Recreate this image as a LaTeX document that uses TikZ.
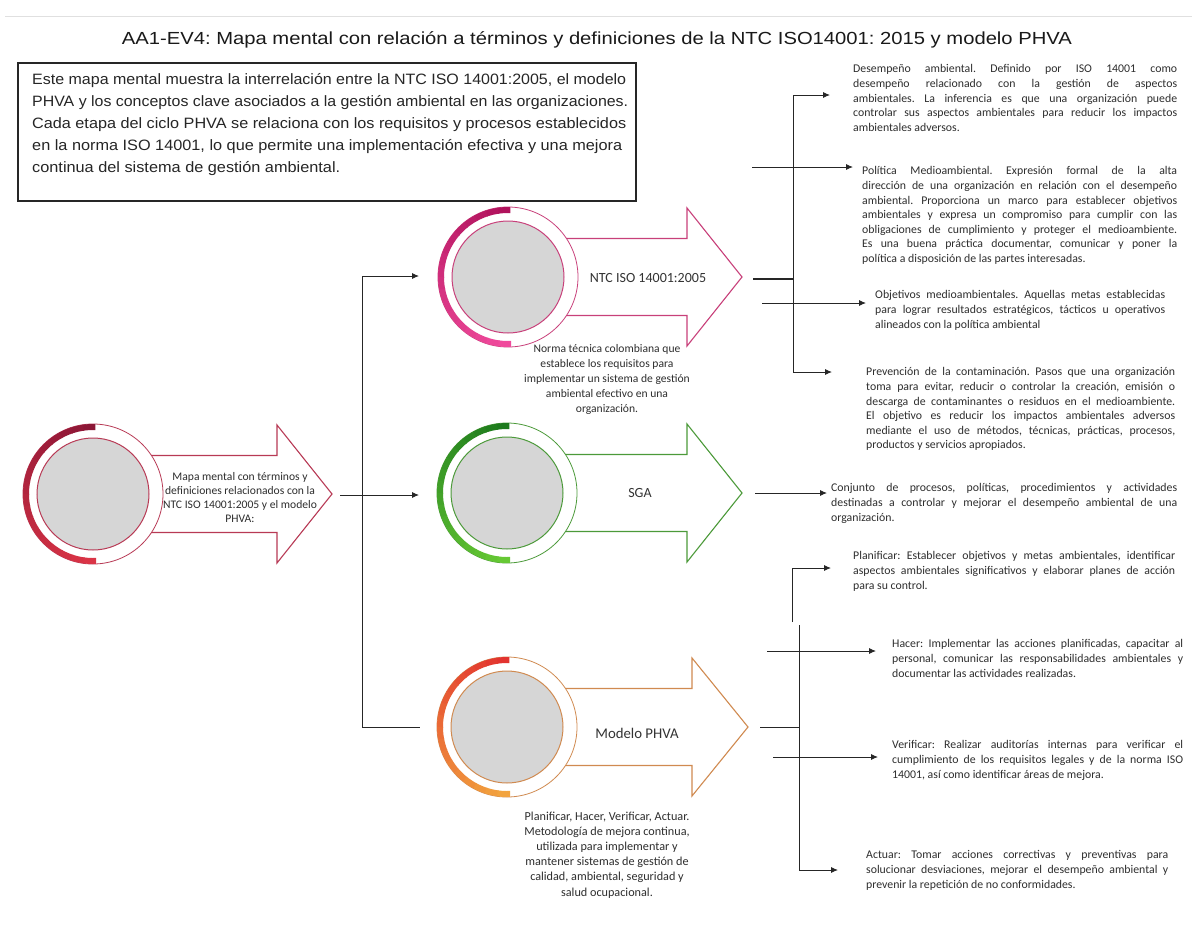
\documentclass[tikz,border=0pt]{standalone}
\usepackage{graphicx}
\usepackage{fontspec}
\setmainfont{Carlito}
\newfontfamily\dinfont{Liberation Sans}
\usetikzlibrary{arrows.meta,calc}
\frenchspacing
\definecolor{ringgray}{HTML}{D6D6D6}
\definecolor{txtgray}{HTML}{2E2E2E}
\definecolor{mDark}{HTML}{8C1636}
\definecolor{mLight}{HTML}{DA3446}
\definecolor{mLine}{HTML}{B83A55}
\definecolor{nDark}{HTML}{B0125C}
\definecolor{nLight}{HTML}{F04A9C}
\definecolor{nLine}{HTML}{C8407A}
\definecolor{gDark}{HTML}{1D7A1D}
\definecolor{gLight}{HTML}{66C834}
\definecolor{gLine}{HTML}{4C9A3A}
\definecolor{oDark}{HTML}{E2332F}
\definecolor{oLight}{HTML}{F2A33E}
\definecolor{oLine}{HTML}{D08A50}
\newcommand{\jl}[2]{\makebox[#1][s]{#2}}
\newcommand{\rl}[2]{\resizebox{#1}{\height}{#2}}
% #1 name, #2 cx, #3 cy, #4 shaft end, #5 tip, #6 dark, #7 light, #8 line
\newcommand{\ringarrow}[8]{%
  \draw[line width=1.1pt, draw=#8, fill=white, line join=miter]
    (#2,#3-38.5) -- (#4,#3-38.5) -- (#4,#3-69) -- (#5,#3) -- (#4,#3+69)
    -- (#4,#3+38.5) -- (#2,#3+38.5) -- cycle;
  \fill[white] (#2,#3) circle[radius=70pt];
  \draw[#8, line width=0.8pt] (#2,#3) circle[radius=70pt];
  \draw[#8, line width=1pt, fill=ringgray] (#2,#3) circle[radius=56pt];
  \foreach \i in {0,...,17}{%
    \pgfmathsetmacro\aa{88+10.22*\i}%
    \pgfmathtruncatemacro\pp{100-100*\i/17}%
    \draw[line width=6pt, #6!\pp!#7] (#2,#3) ++(\aa:67pt) arc[start angle=\aa, delta angle=10.9, radius=67pt];
  }
  \coordinate (#1) at (#2,#3);
  \coordinate (#1tip) at (#5,#3);
}
\begin{document}
\begin{tikzpicture}[x=1pt,y=-1pt,
  conn/.style={draw=black!85, line width=0.9pt},
  arr/.style={-{Latex[length=7pt,width=6pt]}},
  rtxt/.style={anchor=north west, inner sep=0pt, align=left, text=txtgray,
    font=\fontsize{11.8}{14.6}\selectfont},
  ctxt/.style={anchor=north, inner sep=0pt, align=center, text=txtgray},
  lbl/.style={inner sep=0pt, text=black!80}]
\useasboundingbox (0,0) rectangle (1200,927);
\fill[white] (0,0) rectangle (1200,927);
\coordinate (hlA) at (5,16); \coordinate (hlB) at (1192,16);
\draw[black!12, line width=1pt] (hlA) -- (hlB);

% title
\node[inner sep=0pt, text=black!90] (title) at (597,40)
  {\rl{950pt}{\dinfont\fontsize{17.5}{20}\selectfont AA1-EV4: Mapa mental con relación a términos y definiciones de la NTC ISO14001: 2015 y modelo PHVA}};

% intro box
\coordinate (boxA) at (18,63); \coordinate (boxB) at (636,201);
\draw[line width=1.3pt, black!85] (boxA) rectangle (boxB);
\node[anchor=north west, inner sep=0pt, align=left, text=black!85,
  font=\dinfont\fontsize{15}{22}\selectfont] (intro) at (32,68.6)
  {\strut\rl{594pt}{Este mapa mental muestra la interrelación entre la NTC ISO 14001:2005, el modelo}\\
   \rl{596pt}{PHVA y los conceptos clave asociados a la gestión ambiental en las organizaciones.}\\
   \rl{594pt}{Cada etapa del ciclo PHVA se relaciona con los requisitos y procesos establecidos}\\
   \rl{590pt}{en la norma ISO 14001, lo que permite una implementación efectiva y una mejora}\\
   \rl{308pt}{continua del sistema de gestión ambiental.}};

% ---------- connectors (left trunk) ----------
\coordinate (LT) at (362,276); \coordinate (LB) at (362,727);
\coordinate (ntcIn) at (419,276); \coordinate (sgaIn) at (419,495);
\coordinate (phvaIn) at (420,727); \coordinate (mainOut) at (340,495);
\draw[conn, arr] (LB) -- (LT) -- (ntcIn);
\draw[conn, arr] (mainOut) -- (sgaIn);
\draw[conn] (LB) -- (phvaIn);

% ---------- ring arrows ----------
\ringarrow{main}{93}{494}{277}{332}{mDark}{mLight}{mLine}
\ringarrow{ntc}{508}{277}{687}{742}{nDark}{nLight}{nLine}
\ringarrow{sga}{507}{493}{687}{742}{gDark}{gLight}{gLine}
\ringarrow{phva}{507}{727}{692}{748}{oDark}{oLight}{oLine}

% labels inside arrows
\node[ctxt, font=\fontsize{11.6}{14}\selectfont] (mainTxt) at (240,470.8)
  {\strut Mapa mental con términos y\\ definiciones relacionados con la\\ NTC ISO 14001:2005 y el modelo\\ PHVA:};
\node[lbl, font=\fontsize{14}{16}\selectfont] (ntcLbl) at (648,278) {NTC ISO 14001:2005};
\node[lbl, font=\fontsize{14}{16}\selectfont] (sgaLbl) at (640,493) {SGA};
\node[lbl, font=\fontsize{14.8}{17}\selectfont] (phvaLbl) at (637,733) {Modelo PHVA};

\node[ctxt, font=\fontsize{11.6}{15}\selectfont] (ntcTxt) at (607,341.4)
  {\strut Norma técnica colombiana que\\ establece los requisitos para\\ implementar un sistema de gestión\\ ambiental efectivo en una\\ organización.};
\node[ctxt, font=\fontsize{12.2}{15.2}\selectfont] (phvaTxt) at (607,809.3)
  {\strut Planificar, Hacer, Verificar, Actuar.\\ Metodología de mejora continua,\\ utilizada para implementar y\\ mantener sistemas de gestión de\\ calidad, ambiental, seguridad y\\ salud ocupacional.};

% ---------- NTC right branches ----------
\coordinate (RT) at (793,95); \coordinate (RB) at (793,372);
\coordinate (dsIn) at (830,95); \coordinate (pvIn) at (832,372);
\coordinate (stubA) at (753,279); \coordinate (stubB) at (793,279);
\coordinate (poA) at (752,167); \coordinate (poIn) at (853,167);
\coordinate (obA) at (762,303); \coordinate (obIn) at (866,303);
\draw[conn] (RT) -- (RB);
\draw[conn, arr] (RT) -- (dsIn);
\draw[conn, arr] (RB) -- (pvIn);
\draw[conn, line width=2.4pt] (stubA) -- (stubB);
\draw[conn, arr] (poA) -- (poIn);
\draw[conn, arr] (obA) -- (obIn);

% ---------- SGA right ----------
\coordinate (sgA) at (755,493); \coordinate (sgIn) at (827,493);
\draw[conn, arr] (sgA) -- (sgIn);

% ---------- PHVA right branches ----------
\coordinate (PLa) at (792,622); \coordinate (PLb) at (792,568); \coordinate (plIn) at (831,568);
\coordinate (PT) at (799,625); \coordinate (PB) at (799,870); \coordinate (acIn) at (838,870);
\coordinate (pstA) at (760,727); \coordinate (pstB) at (799,727);
\coordinate (haA) at (767,651); \coordinate (haIn) at (876,651);
\coordinate (veA) at (773,757); \coordinate (veIn) at (878,757);
\draw[conn, arr] (PLa) -- (PLb) -- (plIn);
\draw[conn, arr] (PT) -- (PB) -- (acIn);
\draw[conn] (pstA) -- (pstB);
\draw[conn, arr] (haA) -- (haIn);
\draw[conn, arr] (veA) -- (veIn);

% ---------- right texts ----------
\node[rtxt] (desemp) at (853,62.5)
  {\strut\jl{324pt}{Desempeño ambiental. Definido por ISO 14001 como}\\
   \jl{324pt}{desempeño relacionado con la gestión de aspectos}\\
   \jl{324pt}{ambientales. La inferencia es que una organización puede}\\
   \jl{324pt}{controlar sus aspectos ambientales para reducir los impactos}\\
   ambientales adversos.};
\node[rtxt] (politica) at (862,164.5)
  {\strut\jl{315pt}{Política Medioambiental. Expresión formal de la alta}\\
   \jl{315pt}{dirección de una organización en relación con el desempeño}\\
   \jl{315pt}{ambiental. Proporciona un marco para establecer objetivos}\\
   \jl{315pt}{ambientales y expresa un compromiso para cumplir con las}\\
   \jl{315pt}{obligaciones de cumplimiento y proteger el medioambiente.}\\
   \jl{315pt}{Es una buena práctica documentar, comunicar y poner la}\\
   política a disposición de las partes interesadas.};
\node[rtxt] (objetivos) at (875,288.5)
  {\strut\jl{290pt}{Objetivos medioambientales. Aquellas metas establecidas}\\
   \jl{290pt}{para lograr resultados estratégicos, tácticos u operativos}\\
   alineados con la política ambiental};
\node[rtxt] (prevencion) at (866,365.5)
  {\strut\jl{309pt}{Prevención de la contaminación. Pasos que una organización}\\
   \jl{309pt}{toma para evitar, reducir o controlar la creación, emisión o}\\
   \jl{309pt}{descarga de contaminantes o residuos en el medioambiente.}\\
   \jl{309pt}{El objetivo es reducir los impactos ambientales adversos}\\
   \jl{309pt}{mediante el uso de métodos, técnicas, prácticas, procesos,}\\
   productos y servicios apropiados.};
\node[rtxt] (conjunto) at (831,481.5)
  {\strut\jl{346pt}{Conjunto de procesos, políticas, procedimientos y actividades}\\
   \jl{346pt}{destinadas a controlar y mejorar el desempeño ambiental de una}\\
   organización.};
\node[rtxt] (planificar) at (853,549.5)
  {\strut\jl{322pt}{Planificar: Establecer objetivos y metas ambientales, identificar}\\
   \jl{322pt}{aspectos ambientales significativos y elaborar planes de acción}\\
   para su control.};
\node[rtxt] (hacer) at (892,637.5)
  {\strut\jl{291pt}{Hacer: Implementar las acciones planificadas, capacitar al}\\
   \jl{291pt}{personal, comunicar las responsabilidades ambientales y}\\
   documentar las actividades realizadas.};
\node[rtxt] (verificar) at (892,738.5)
  {\strut\jl{291pt}{Verificar: Realizar auditorías internas para verificar el}\\
   \jl{291pt}{cumplimiento de los requisitos legales y de la norma ISO}\\
   14001, así como identificar áreas de mejora.};
\node[rtxt] (actuar) at (866,848.5)
  {\strut\jl{302pt}{Actuar: Tomar acciones correctivas y preventivas para}\\
   \jl{302pt}{solucionar desviaciones, mejorar el desempeño ambiental y}\\
   prevenir la repetición de no conformidades.};
\end{tikzpicture}
\end{document}
